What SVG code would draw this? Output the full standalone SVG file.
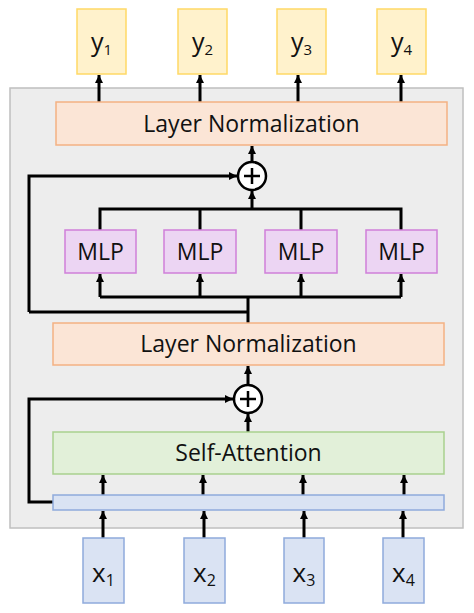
<svg xmlns="http://www.w3.org/2000/svg" width="474" height="613" viewBox="0 0 474 613">
<defs>
<marker id="ah" markerUnits="userSpaceOnUse" markerWidth="9" markerHeight="9" refX="8" refY="4.5" orient="auto">
<path d="M0,0.5 L8,4.5 L0,8.5 z" fill="#000"/>
</marker>
<style>
text{font-family:"Open Sans","Liberation Sans",sans-serif;fill:#111;text-anchor:middle}
.lbl{font-size:23px}
.y{fill:#fff2cc;stroke:#ffd966;stroke-width:1.5}
.x{fill:#dae3f3;stroke:#8faadc;stroke-width:1.5}
.ln{fill:#fbe5d6;stroke:#f4b183;stroke-width:1.5}
.mlp{fill:#ecd5f3;stroke:#cf7fd9;stroke-width:1.5}
.sa{fill:#e2f0d9;stroke:#a9d18e;stroke-width:1.5}
.c{fill:none;stroke:#000;stroke-width:3}
.a{marker-end:url(#ah)}
.plus{fill:#fff;stroke:#000;stroke-width:2.5}
</style>
</defs>
<rect id="block" x="10" y="88" width="453" height="440" fill="#ededed" stroke="#bfbfbf" stroke-width="1.5"/>

<g id="connectors">
<path class="c a" d="M99,102 V75"/>
<path class="c a" d="M200,102 V75"/>
<path class="c a" d="M298,102 V75"/>
<path class="c a" d="M401,102 V75"/>
<path class="c a" d="M252,162 V146"/>
<path class="c a" d="M29,312 V176 H237"/>
<path class="c" d="M100,230 V209 H401 V230 M200,230 V209 M301,230 V209"/>
<path class="c a" d="M252,209 V191"/>
<path class="c" d="M248,323 V297 M100,297 H401 M248,312 H29"/>
<path class="c a" d="M100,297 V274"/>
<path class="c a" d="M200,297 V274"/>
<path class="c a" d="M301,297 V274"/>
<path class="c a" d="M401,297 V274"/>
<path class="c a" d="M248,385 V366"/>
<path class="c a" d="M248,432 V414"/>
<path class="c a" d="M53,502 H29 V399 H233"/>
<path class="c a" d="M103,495 V475"/>
<path class="c a" d="M203,495 V475"/>
<path class="c a" d="M303,495 V475"/>
<path class="c a" d="M404,495 V475"/>
<path class="c a" d="M103,538 V511"/>
<path class="c a" d="M204,538 V511"/>
<path class="c a" d="M304,538 V511"/>
<path class="c a" d="M403,538 V511"/>
</g>

<g id="y1"><rect class="y" x="77" y="9" width="49" height="65"/><text x="101.5" y="51" font-size="25">y<tspan font-size="15" dy="4">1</tspan></text></g>
<g id="y2"><rect class="y" x="178" y="9" width="49" height="65"/><text x="202.5" y="51" font-size="25">y<tspan font-size="15" dy="4">2</tspan></text></g>
<g id="y3"><rect class="y" x="277" y="9" width="49" height="65"/><text x="301.5" y="51" font-size="25">y<tspan font-size="15" dy="4">3</tspan></text></g>
<g id="y4"><rect class="y" x="377" y="9" width="49" height="65"/><text x="401.5" y="51" font-size="25">y<tspan font-size="15" dy="4">4</tspan></text></g>

<g id="ln2"><rect class="ln" x="56" y="102" width="391" height="43"/><text class="lbl" x="251.5" y="132">Layer Normalization</text></g>

<g id="add2"><circle class="plus" cx="252" cy="176" r="14"/><path d="M244,176 H260 M252,168 V184" stroke="#000" stroke-width="2.5"/></g>

<g id="mlp1"><rect class="mlp" x="65" y="230" width="71" height="43"/><text class="lbl" x="100.5" y="260">MLP</text></g>
<g id="mlp2"><rect class="mlp" x="164" y="230" width="72" height="43"/><text class="lbl" x="200" y="260">MLP</text></g>
<g id="mlp3"><rect class="mlp" x="265" y="230" width="72" height="43"/><text class="lbl" x="301" y="260">MLP</text></g>
<g id="mlp4"><rect class="mlp" x="366" y="230" width="71" height="43"/><text class="lbl" x="401.5" y="260">MLP</text></g>

<g id="ln1"><rect class="ln" x="53" y="323" width="391" height="42"/><text class="lbl" x="248.5" y="352">Layer Normalization</text></g>

<g id="add1"><circle class="plus" cx="248" cy="399" r="14"/><path d="M240,399 H256 M248,391 V407" stroke="#000" stroke-width="2.5"/></g>

<g id="sa"><rect class="sa" x="53" y="432" width="391" height="42"/><text class="lbl" x="248.5" y="461">Self-Attention</text></g>

<g id="embed"><rect class="x" x="53" y="495" width="391" height="15"/></g>

<g id="x1"><rect class="x" x="83" y="538" width="41" height="65"/><text x="103.5" y="582" font-size="26">x<tspan font-size="16" dy="4">1</tspan></text></g>
<g id="x2"><rect class="x" x="184" y="538" width="41" height="65"/><text x="204.5" y="582" font-size="26">x<tspan font-size="16" dy="4">2</tspan></text></g>
<g id="x3"><rect class="x" x="284" y="538" width="40" height="65"/><text x="304" y="582" font-size="26">x<tspan font-size="16" dy="4">3</tspan></text></g>
<g id="x4"><rect class="x" x="383" y="538" width="41" height="65"/><text x="403.5" y="582" font-size="26">x<tspan font-size="16" dy="4">4</tspan></text></g>
</svg>
